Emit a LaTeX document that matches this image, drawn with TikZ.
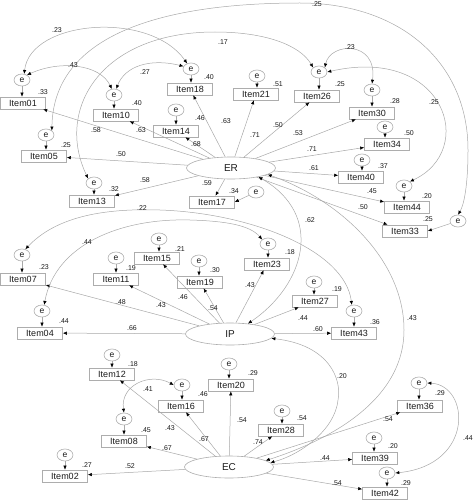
\documentclass[tikz,border=0pt]{standalone}
\usepackage{fontspec}
\setmainfont{Liberation Sans}
\usetikzlibrary{shapes.geometric,arrows.meta}
\definecolor{lgray}{HTML}{A8A8A8}
\definecolor{bgray}{HTML}{ADADAD}
\definecolor{txt}{HTML}{1A1A1A}
\begin{document}
\begin{tikzpicture}[x=1pt,y=-1pt,
 item/.style={draw=bgray,line width=0.6pt,minimum width=45pt,minimum height=12pt,inner sep=0pt,text=txt,font=\fontsize{9}{9}\selectfont},
 err/.style={ellipse,draw=bgray,line width=0.6pt,minimum width=16pt,minimum height=12pt,inner sep=0pt,text=txt,font=\fontsize{8.5}{8.5}\selectfont},
 lat/.style={ellipse,draw=bgray,line width=0.6pt,minimum width=89pt,minimum height=22pt,inner sep=0pt,text=txt,font=\fontsize{10}{10}\selectfont},
 lab/.style={inner sep=0pt,text=txt,font=\fontsize{7}{7}\selectfont},
 reg/.style={draw=lgray,line width=0.5pt,-{Latex[length=4pt,width=3.4pt,color=black]}},
 cov/.style={draw=lgray,line width=0.5pt,{Latex[length=4pt,width=3.4pt,color=black]}-{Latex[length=4pt,width=3.4pt,color=black]}}
]
\useasboundingbox (0,0) rectangle (474,500);
% latent variables
\node[lat] (ER) at (231,168) {ER};
\node[lat] (IP) at (230,334) {IP};
\node[lat] (EC) at (229,467) {EC};
% items
\node[item] (I01) at (23,103) {Item01};
\node[item] (I10) at (116,115) {Item10};
\node[item] (I18) at (190,89) {Item18};
\node[item] (I14) at (176,131) {Item14};
\node[item] (I21) at (256,94) {Item21};
\node[item] (I26) at (317,96) {Item26};
\node[item] (I30) at (372,113) {Item30};
\node[item] (I34) at (387,144) {Item34};
\node[item] (I40) at (361,177) {Item40};
\node[item] (I44) at (407,207) {Item44};
\node[item] (I33) at (405,231) {Item33};
\node[item] (I05) at (44,156) {Item05};
\node[item] (I13) at (92,201) {Item13};
\node[item] (I17) at (212,202) {Item17};
\node[item] (I07) at (23,279) {Item07};
\node[item] (I11) at (116,279) {Item11};
\node[item] (I15) at (157,258) {Item15};
\node[item] (I19) at (200,282) {Item19};
\node[item] (I04) at (40,333) {Item04};
\node[item] (I23) at (267,264) {Item23};
\node[item] (I27) at (315,301) {Item27};
\node[item] (I43) at (354,333) {Item43};
\node[item] (I12) at (112,374) {Item12};
\node[item] (I16) at (181,406) {Item16};
\node[item] (I20) at (231,385) {Item20};
\node[item] (I08) at (124,441) {Item08};
\node[item] (I02) at (65,476) {Item02};
\node[item] (I28) at (281,430) {Item28};
\node[item] (I36) at (420,406) {Item36};
\node[item] (I39) at (375,458) {Item39};
\node[item] (I42) at (385,493) {Item42};
% errors
\node[err] (e01) at (22,80) {e};
\node[err] (e10) at (114,95) {e};
\node[err] (e18) at (191,69) {e};
\node[err] (e14) at (176,110) {e};
\node[err] (e21) at (257,76) {e};
\node[err] (e26) at (319,72) {e};
\node[err] (e30) at (372,90) {e};
\node[err] (e34) at (385,127) {e};
\node[err] (e40) at (362,160) {e};
\node[err] (e44) at (404,186) {e};
\node[err] (e33) at (458,221) {e};
\node[err] (e05) at (46,135) {e};
\node[err] (e13) at (94,183) {e};
\node[err] (e17) at (256,192) {e};
\node[err] (e07) at (22,255) {e};
\node[err] (e11) at (116,258) {e};
\node[err] (e15) at (159,239) {e};
\node[err] (e19) at (199,261) {e};
\node[err] (e04) at (42,311) {e};
\node[err] (e23) at (268,244) {e};
\node[err] (e27) at (314,282) {e};
\node[err] (e43) at (354,311) {e};
\node[err] (e12) at (112,355) {e};
\node[err] (e16) at (182,385) {e};
\node[err] (e20) at (229,364) {e};
\node[err] (e08) at (124,419) {e};
\node[err] (e02) at (65,455) {e};
\node[err] (e28) at (282,411) {e};
\node[err] (e36) at (419,383) {e};
\node[err] (e39) at (374,438) {e};
\node[err] (e42) at (387,473) {e};
% error arrows
\foreach \i in {01,10,18,14,21,26,30,34,40,44,05,13,07,11,15,19,04,23,27,43,12,16,20,08,02,28,36,39,42}
  \draw[reg] (e\i) -- (e\i |- I\i.north);
\draw[reg] (e17) -- (I17.east);
\draw[reg] (e33) -- (I33.east);
% loadings
\foreach \i in {01,10,18,14,21,26,30,34,40,44,33,05,13,17}
  \draw[reg] (ER) -- (I\i);
\foreach \i in {07,11,15,19,04,23,27,43}
  \draw[reg] (IP) -- (I\i);
\foreach \i in {12,16,20,08,02,28,36,39,42}
  \draw[reg] (EC) -- (I\i);
% error covariances
\draw[cov] (e05.north east) .. controls (53,40) and (150,3) .. (300,3) .. controls (400,3) and (468,62) .. (468,150) .. controls (468,185) and (464,205) .. (e33.north);
\draw[cov] (e13.north west) .. controls (55,110) and (100,32) .. (215,32) .. controls (265,32) and (300,45) .. (e26.north west);
\draw[cov] (e01.70) .. controls (30,20) and (150,10) .. (e18.125);
\draw[cov] (e01.45) .. controls (60,60) and (100,64) .. (e10.110);
\draw[cov] (e18.160) .. controls (150,58) and (125,66) .. (e10.70);
\draw[cov] (e26.north east) .. controls (330,42) and (378,40) .. (e30.north);
\draw[cov] (e26.east) .. controls (445,45) and (478,150) .. (e44.north east);
\draw[cov] (e07.60) .. controls (55,218) and (100,208) .. (160,210) .. controls (250,213) and (345,250) .. (e43.110);
\draw[cov] (e04.70) .. controls (55,245) and (120,218) .. (190,220) .. controls (225,221) and (250,225) .. (e23.north west);
\draw[cov] (e08.north) .. controls (120,385) and (150,372) .. (e16.west);
\draw[cov] (e36.east) .. controls (470,385) and (475,465) .. (e42.east);
% latent covariances
\draw[cov] (IP.30) .. controls (305,285) and (325,215) .. (ER.-18);
\draw[cov] (ER.-10) .. controls (340,200) and (404,260) .. (404,330) .. controls (404,400) and (330,440) .. (EC.10);
\draw[cov] (IP.-6) .. controls (330,345) and (342,380) .. (338,400) .. controls (335,430) and (300,455) .. (EC.6);
% R-squared labels
\node[lab] (r01) at (43,92) {.33};
\node[lab] (r10) at (137,103) {.40};
\node[lab] (r18) at (209,77) {.40};
\node[lab] (r14) at (200,118) {.46};
\node[lab] (r21) at (278,84) {.51};
\node[lab] (r26) at (340,84) {.25};
\node[lab] (r30) at (395,101) {.28};
\node[lab] (r34) at (409,133) {.50};
\node[lab] (r40) at (383,166) {.37};
\node[lab] (r44) at (427,196) {.20};
\node[lab] (r33) at (428,219) {.25};
\node[lab] (r05) at (66,145) {.25};
\node[lab] (r13) at (114,189) {.32};
\node[lab] (r17) at (234,191) {.34};
\node[lab] (r07) at (44,267) {.23};
\node[lab] (r11) at (131,268) {.19};
\node[lab] (r15) at (180,249) {.21};
\node[lab] (r19) at (215,270) {.30};
\node[lab] (r04) at (64,321) {.44};
\node[lab] (r23) at (290,252) {.18};
\node[lab] (r27) at (337,289) {.19};
\node[lab] (r43) at (375,322) {.36};
\node[lab] (r12) at (133,364) {.18};
\node[lab] (r16) at (203,394) {.46};
\node[lab] (r20) at (253,373) {.29};
\node[lab] (r08) at (146,430) {.45};
\node[lab] (r02) at (87,465) {.27};
\node[lab] (r28) at (302,418) {.54};
\node[lab] (r36) at (440,393) {.29};
\node[lab] (r39) at (393,446) {.20};
\node[lab] (r42) at (406,483) {.29};
% loading labels
\node[lab] (l01) at (96,130) {.58};
\node[lab] (l10) at (141,130) {.63};
\node[lab] (l14) at (196,144) {.68};
\node[lab] (l18) at (226,121) {.63};
\node[lab] (l21) at (255,135) {.71};
\node[lab] (l26) at (278,125) {.50};
\node[lab] (l30) at (298,133) {.53};
\node[lab] (l34) at (312,149) {.71};
\node[lab] (l40) at (314,168) {.61};
\node[lab] (l44) at (372,191) {.45};
\node[lab] (l33) at (363,207) {.50};
\node[lab] (l05) at (121,154) {.50};
\node[lab] (l13) at (145,180) {.58};
\node[lab] (l17) at (207,183) {.59};
\node[lab] (l07) at (121,302) {.48};
\node[lab] (l11) at (161,305) {.43};
\node[lab] (l15) at (183,297) {.46};
\node[lab] (l19) at (213,308) {.54};
\node[lab] (l04) at (132,328) {.66};
\node[lab] (l23) at (250,285) {.43};
\node[lab] (l27) at (303,318) {.44};
\node[lab] (l43) at (318,329) {.60};
\node[lab] (l12) at (170,428) {.43};
\node[lab] (l16) at (204,439) {.67};
\node[lab] (l08) at (167,448) {.67};
\node[lab] (l02) at (130,466) {.52};
\node[lab] (l20) at (242,420) {.54};
\node[lab] (l28) at (258,442) {.74};
\node[lab] (l36) at (388,419) {.54};
\node[lab] (l39) at (325,458) {.44};
\node[lab] (l42) at (337,483) {.54};
% covariance labels
\node[lab] (c1) at (57,30) {.23};
\node[lab] (c2) at (73,65) {.43};
\node[lab] (c3) at (145,72) {.27};
\node[lab] (c4) at (223,42) {.17};
\node[lab] (c5) at (317,4) {.25};
\node[lab] (c6) at (350,47) {.23};
\node[lab] (c7) at (434,102) {.25};
\node[lab] (c8) at (142,208) {.22};
\node[lab] (c9) at (87,242) {.44};
\node[lab] (c10) at (310,220) {.62};
\node[lab] (c11) at (412,318) {.43};
\node[lab] (c12) at (342,376) {.20};
\node[lab] (c13) at (148,389) {.41};
\node[lab] (c14) at (468,438) {.44};
\end{tikzpicture}
\end{document}
